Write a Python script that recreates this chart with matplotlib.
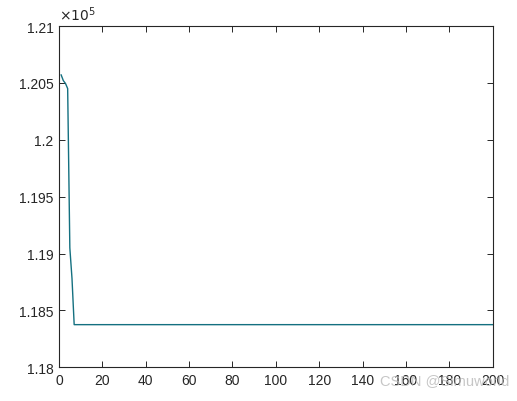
import matplotlib
matplotlib.use("Agg")
import matplotlib.pyplot as plt
from matplotlib.ticker import FuncFormatter

plt.rcParams["font.family"] = ["Liberation Sans", "DejaVu Sans"]

# objective value per iteration
head_vals = [120570, 120520, 120495, 120450, 119050, 118780, 118375]
plateau_val = 118375
n_iter = 200
values = head_vals + [plateau_val] * (n_iter - len(head_vals))
iters = list(range(1, n_iter + 1))

y_ticks = [118000, 118500, 119000, 119500, 120000, 120500, 121000]
x_ticks = list(range(0, 201, 20))

fig = plt.figure(figsize=(5.17, 4.02), dpi=100)
ax = fig.add_axes([0.1141, 0.0838, 0.9530 - 0.1141, 0.9328 - 0.0838])

ax.plot(iters, values, color="#147080", lw=1.0)

ax.set_xlim(0, 200)
ax.set_ylim(118000, 121000)
ax.set_xticks(x_ticks)
ax.set_yticks(y_ticks)
ax.yaxis.set_major_formatter(FuncFormatter(lambda v, p: "%g" % round(v / 1e5, 4)))

ax.tick_params(direction="in", top=True, right=True, length=4, width=0.7,
               labelsize=10, colors="#262626", pad=4)
for s in ax.spines.values():
    s.set_linewidth(0.8)
    s.set_color("#262626")

ax.text(0.0, 1.008, r"$\times10^5$", transform=ax.transAxes, fontsize=10,
        color="#262626", ha="left", va="bottom")

fig.text(0.735, 0.035, "CSDN @Simuworld", fontsize=10.5, color="#b8b8b8",
         alpha=0.8, ha="left", va="bottom")

fig.savefig("out.png", dpi=100, facecolor="white")
